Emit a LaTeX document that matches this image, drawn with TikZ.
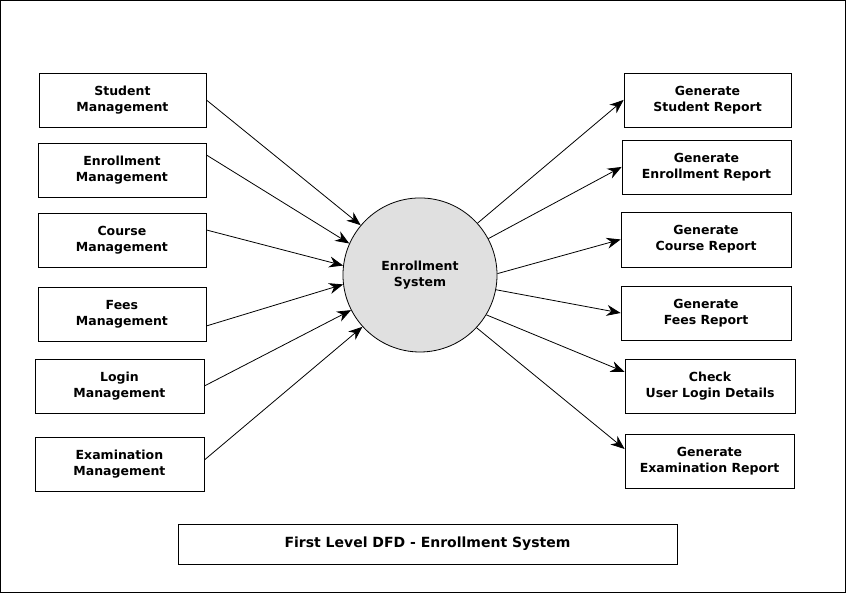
\documentclass[tikz,border=0pt]{standalone}
\usepackage{fontspec}
\setmainfont{DejaVu Sans}
\usetikzlibrary{arrows.meta}
\definecolor{procgray}{RGB}{224,224,224}
\begin{document}
\begin{tikzpicture}[x=1pt,y=-1pt,
    box/.style={draw,thick,rectangle,align=center,font=\fontsize{12.5}{16}\selectfont\bfseries,inner sep=0pt},
    flow/.style={-{Stealth[length=14pt,width=11pt]},thick}]
            \draw[thick] (0.5,0.5) rectangle (845.5,592.5);

            \node[box,minimum width=167,minimum height=54] (L1) at (122.5,100) {Student\\Management};
            \node[box,minimum width=168,minimum height=54] (L2) at (122,170) {Enrollment\\Management};
            \node[box,minimum width=168,minimum height=54] (L3) at (122,240) {Course\\Management};
            \node[box,minimum width=168,minimum height=54] (L4) at (122,314) {Fees\\Management};
            \node[box,minimum width=169,minimum height=54] (L5) at (119.5,386) {Login\\Management};
            \node[box,minimum width=169,minimum height=54] (L6) at (119.5,464) {Examination\\Management};

            \node[box,minimum width=167,minimum height=54] (R1) at (707.5,100) {Generate\\Student Report};
            \node[box,minimum width=169,minimum height=54] (R2) at (706.5,167) {Generate\\Enrollment Report};
            \node[box,minimum width=170,minimum height=55] (R3) at (706,239.5) {Generate\\Course Report};
            \node[box,minimum width=170,minimum height=54] (R4) at (706,313) {Generate\\Fees Report};
            \node[box,minimum width=170,minimum height=54] (R5) at (710,386) {Check\\User Login Details};
            \node[box,minimum width=169,minimum height=54] (R6) at (709.5,461) {Generate\\Examination Report};

            \node[box,circle,fill=procgray,minimum size=154] (ES) at (420,275) {Enrollment\\System};

            \node[box,minimum width=499,minimum height=40,font=\fontsize{14}{16}\selectfont\bfseries] (T) at (427.5,544) {First Level DFD - Enrollment System};

            \draw[flow] (L1.east) -- (ES.140);
            \draw[flow] ([yshift=15]L2.east) -- (ES.156);
            \draw[flow] ([yshift=10]L3.east) -- (ES.173);
            \draw[flow] ([yshift=-12]L4.east) -- (ES.187);
            \draw[flow] (L5.east) -- (ES.207);
            \draw[flow] ([yshift=4]L6.east) -- (ES.222);

            \draw[flow] (ES.42) -- (R1.west);
            \draw[flow] (ES.28) -- (R2.west);
            \draw[flow] (ES.1) -- (R3.west);
            \draw[flow] (ES.-11) -- (R4.west);
            \draw[flow] (ES.-31) -- ([yshift=14]R5.west);
            \draw[flow] (ES.-43) -- ([yshift=12]R6.west);
        \end{tikzpicture}
\end{document}
